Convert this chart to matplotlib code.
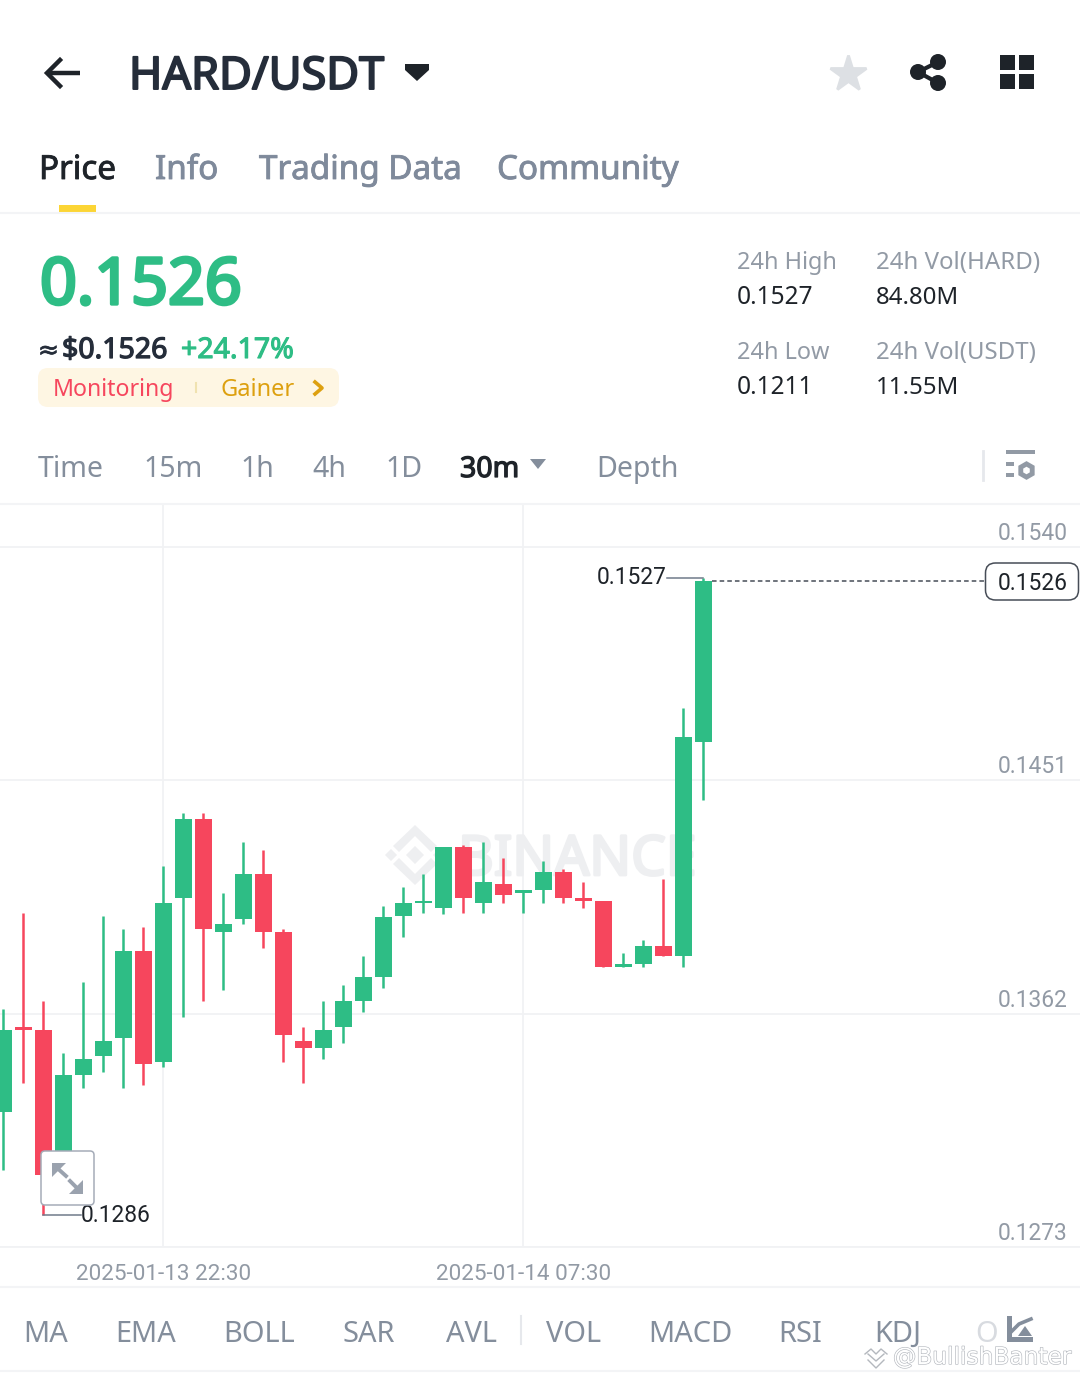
# -*- coding: utf-8 -*-
import matplotlib
matplotlib.use('Agg')
import matplotlib.pyplot as plt
import matplotlib.patheffects as pe
from matplotlib.patches import Polygon, Rectangle, Circle, FancyBboxPatch

# candles, 30m each, oldest first
opens = [.13246, .13568, .13558, .13062, .13386, .13459, .13528, .13860, .13437, .14062, .14364, .13932,
         .13981, .14153, .13932, .13517, .13489, .13569, .13669, .13761, .13993, .14042, .14023, .14256,
         .14042, .14115, .14081, .14092, .14161, .14061, .14051, .13799, .13809, .13879, .13840, .14656]
highs = [.13639, .14004, .13669, .13470, .13741, .13993, .13943, .13952, .14183, .14385, .14385, .14081,
         .14275, .14244, .13943, .13569, .13669, .13729, .13840, .14031, .14103, .14153, .14256, .14263,
         .14275, .14214, .14092, .14202, .14172, .14122, .14051, .13851, .13901, .14134, .14787, .15282]
lows = [.13024, .13357, .12852, .13062, .13336, .13398, .13336, .13348, .13418, .13608, .13669, .13710,
        .13962, .13870, .13437, .13357, .13448, .13508, .13626, .13719, .13912, .14004, .14000, .14004,
        .14004, .14042, .14004, .14042, .14042, .14023, .13799, .13799, .13799, .13840, .13799, .14435]
closes = [.13558, .13558, .13005, .13386, .13447, .13517, .13860, .13428, .14042, .14364, .13943, .13962,
          .14153, .13932, .13539, .13489, .13558, .13669, .13760, .13990, .14042, .14051, .14256, .14062,
          .14122, .14073, .14092, .14161, .14062, .14051, .13799, .13809, .13879, .13840, .14675, .15270]

price_ticks = [0.1540, 0.1451, 0.1362, 0.1273]
price_labels = ['0.1540', '0.1451', '0.1362', '0.1273']
date_ticks = [8, 26]
date_labels = ['2025-01-13 22:30', '2025-01-14 07:30']

period_tabs = ['Time', '15m', '1h', '4h', '1D', '30m', 'Depth']
period_x = [38, 143, 240, 312, 385, 460, 596]
top_tabs = ['Price', 'Info', 'Trading Data', 'Community']
top_tabs_x = [39, 155, 259, 497]
indicators = ['MA', 'EMA', 'BOLL', 'SAR', 'AVL', 'VOL', 'MACD', 'RSI', 'KDJ']
indicators_x = [23, 115, 223, 342, 446, 546, 648, 778, 874]

GREEN = '#2EBD85'
RED = '#F6465D'
DARK = '#1E2329'
GREY = '#848E9C'
AXIS_GREY = '#929AA5'
UI_FONT = ['Noto Sans', 'DejaVu Sans']
CHART_FONT = 'Roboto'

W, H = 1080, 1378
CHART_TOP, CHART_BOTTOM = 505, 1247


def pixel_axes(fig, zorder):
    a = fig.add_axes([0, 0, 1, 1], zorder=zorder)
    a.set_xlim(0, W)
    a.set_ylim(H, 0)
    a.axis('off')
    a.patch.set_alpha(0)
    return a


# the installed Noto has no heavy weight here, so medium/bold text gets a thin stroke
def txt(a, x, y, s, px, color, stroke=0, ha='left', family=UI_FONT):
    t = a.text(x, y, s, fontsize=px * 0.72, color=color, ha=ha, va='baseline', family=family)
    if stroke:
        t.set_path_effects([pe.withStroke(linewidth=stroke, foreground=color)])
    return t


fig = plt.figure(figsize=(W / 100, H / 100), dpi=100, facecolor='white')
bg = pixel_axes(fig, 0)
ax = fig.add_axes([0, (H - CHART_BOTTOM) / H, 1, (CHART_BOTTOM - CHART_TOP) / H], zorder=1)
fg = pixel_axes(fig, 2)

# --- header ---
bg.plot([48, 80], [73, 73], color=DARK, lw=3.2, solid_capstyle='butt')
bg.plot([60, 47, 60], [60, 73, 86], color=DARK, lw=3.2, solid_joinstyle='miter')
txt(bg, 129, 89, 'HARD/USDT', 45, '#252D3A', stroke=1.4)
bg.add_patch(Polygon([[405, 64], [429, 64], [429, 70], [417, 81], [405, 70]], color=DARK, lw=0))
bg.plot([848], [74], marker='*', ms=27, color='#DDE0E4', mew=2, mec='#DDE0E4', ls='')
for cx, cy in [(918, 72), (938, 62), (938, 83)]:
    bg.add_patch(Circle((cx, cy), 8, color=DARK, lw=0))
bg.plot([938, 918, 938], [62, 72, 83], color=DARK, lw=3)
for x0 in (1000, 1019):
    for y0 in (55, 74):
        bg.add_patch(Rectangle((x0, y0), 15, 15, color=DARK, lw=0))

for i, s in enumerate(top_tabs):
    txt(bg, top_tabs_x[i], 179, s, 33.2, DARK if i == 0 else '#7F8A9B', stroke=0.6)
bg.add_patch(Rectangle((59, 205), 37, 7, color='#FCD535', lw=0))
bg.plot([0, W], [213, 213], color='#F3F4F6', lw=1.5)

# --- price block ---
txt(bg, 40, 304, '0.1526', 64.5, GREEN, stroke=2.4)
txt(bg, 38, 358, '≈', 25, '#252D3A', stroke=0.5)
txt(bg, 62, 358, '$0.1526', 28.5, '#252D3A', stroke=0.9)
txt(bg, 181, 358, '+24.17%', 28.5, GREEN, stroke=0.8)
bg.add_patch(FancyBboxPatch((38, 368), 301, 39, boxstyle='round,pad=0,rounding_size=10', fc='#FEF6E3', lw=0))
txt(bg, 53, 396, 'Monitoring', 23.1, RED)
bg.plot([196, 196], [383, 392], color='#F0E2B0', lw=1.5)
txt(bg, 221, 396, 'Gainer', 23.6, '#DDA00F')
bg.plot([315, 322, 315], [382, 388, 394], color='#DDA00F', lw=2.6)

txt(bg, 737, 269, '24h High', 23.5, AXIS_GREY)
txt(bg, 737, 304, '0.1527', 24.5, DARK)
txt(bg, 737, 359, '24h Low', 23.5, AXIS_GREY)
txt(bg, 737, 394, '0.1211', 24.5, DARK)
txt(bg, 876, 269, '24h Vol(HARD)', 24, AXIS_GREY)
txt(bg, 876, 304, '84.80M', 24, DARK)
txt(bg, 876, 359, '24h Vol(USDT)', 24, AXIS_GREY)
txt(bg, 876, 394, '11.55M', 24, DARK)

# --- period tabs ---
for i, s in enumerate(period_tabs):
    active = s == '30m'
    txt(bg, period_x[i], 477, s, 28.5, DARK if active else GREY, stroke=0.9 if active else 0)
bg.add_patch(Polygon([[530, 459], [546, 459], [538, 469]], color=GREY, lw=0))
bg.plot([983, 983], [451, 480], color='#E6E8EC', lw=2)
bg.add_patch(Rectangle((1006, 450), 29, 4, color=AXIS_GREY, lw=0))
bg.add_patch(Rectangle((1006, 462), 8, 4, color=AXIS_GREY, lw=0))
bg.add_patch(Rectangle((1006, 473), 8, 4, color=AXIS_GREY, lw=0))
bg.plot([1026], [470], marker='h', ms=9.5, mfc='white', mec=AXIS_GREY, mew=3.5, ls='')
bg.plot([0, W], [504, 504], color='#F3F4F6', lw=1.5)

# watermark behind the candles
LOGO = '#EEEFF1'
for cx, r in [(415, 9), (391, 6), (439, 6)]:
    bg.add_patch(Polygon([[cx, 855 - r], [cx + r, 855], [cx, 855 + r], [cx - r, 855]], color=LOGO, lw=0))
bg.add_patch(Polygon([[415, 825], [437, 846], [431, 852], [415, 836], [399, 852], [393, 846]], color=LOGO, lw=0))
bg.add_patch(Polygon([[415, 885], [437, 864], [431, 858], [415, 874], [399, 858], [393, 864]], color=LOGO, lw=0))
txt(bg, 458, 875, 'BINANCE', 55, LOGO, stroke=2)

# --- candles ---
ax.patch.set_alpha(0)
ax.set_xlim(-0.165, 53.835)
ax.set_ylim(0.1273, 0.1556)
xs = list(range(len(opens)))
colors = [GREEN if c >= o else RED for o, c in zip(opens, closes)]
ax.vlines(xs, lows, highs, colors=colors, lw=1.8, zorder=3)
bottoms = [min(o, c) for o, c in zip(opens, closes)]
heights = [abs(c - o) for o, c in zip(opens, closes)]
ax.bar(xs, heights, bottom=bottoms, width=0.87, color=colors, linewidth=0, zorder=4)

ax.set_yticks(price_ticks)
ax.set_yticklabels([])
ax.set_xticks(date_ticks)
ax.set_xticklabels(date_labels, fontsize=16.2, color=AXIS_GREY, family=CHART_FONT)
ax.tick_params(length=0, pad=12.4)
ax.grid(axis='y', color='#F1F2F4', lw=1.3)
ax.grid(axis='x', color='#EFF0F2', lw=1.1)
ax.set_axisbelow(True)
for name, spine in ax.spines.items():
    spine.set_visible(name == 'bottom')
ax.spines['bottom'].set_color('#F1F2F4')
ax.spines['bottom'].set_linewidth(1.3)
for v, s in zip(price_ticks, price_labels):
    ax.annotate(s, xy=(1, v), xycoords=('axes fraction', 'data'), xytext=(-8.8, 5.0), textcoords='offset points',
                ha='right', va='baseline', fontsize=16.4, color=AXIS_GREY, family=CHART_FONT)

# high / low / last price markers
ax.plot([33.2, 35], [highs[35], highs[35]], color='#707A8A', lw=1.1, zorder=5)
ax.annotate('0.1527', xy=(33.15, highs[35]), ha='right', va='center', fontsize=16.4, color=DARK, family=CHART_FONT)
ax.plot([2, 3.9], [lows[2], lows[2]], color='#707A8A', lw=1.1, zorder=5)
ax.annotate('0.1286', xy=(3.85, lows[2]), ha='left', va='center', fontsize=16.4, color=DARK, family=CHART_FONT)
ax.plot([35.45, 49.1], [closes[35], closes[35]], color='#474D57', lw=1.1, ls=(0, (3, 2)), zorder=5)

fg.add_patch(FancyBboxPatch((985.5, 563), 93, 37, boxstyle='round,pad=0,rounding_size=10', fc='white',
                            ec='#474D57', lw=1.1))
txt(fg, 1033, 590, '0.1526', 22.8, DARK, ha='center', family=CHART_FONT)

# expand button
fg.add_patch(FancyBboxPatch((41, 1151), 53, 54, boxstyle='round,pad=0,rounding_size=4', fc='white',
                            ec='#A5ACB8', lw=1.1))
fg.plot([56, 66], [1167, 1176], color='#9AA2AE', lw=2.8)
fg.plot([70, 79], [1181, 1190], color='#9AA2AE', lw=2.8)
fg.add_patch(Polygon([[52, 1163], [66, 1163], [52, 1177]], color='#9AA2AE', lw=0))
fg.add_patch(Polygon([[83, 1194], [69, 1194], [83, 1180]], color='#9AA2AE', lw=0))

# --- indicator bar ---
bg.plot([0, W], [1287, 1287], color='#F3F4F6', lw=1.5)
for i, s in enumerate(indicators):
    txt(bg, indicators_x[i], 1342, s, 29, GREY)
txt(bg, 975, 1342, 'O', 29, '#D8DBE0')
bg.plot([521, 521], [1316, 1344], color='#E6E8EC', lw=1.5)
bg.plot([0, W], [1371, 1371], color='#F3F4F6', lw=1.5)
bg.add_patch(Rectangle((1007, 1316), 5, 26, color=GREY, lw=0))
bg.add_patch(Rectangle((1007, 1337), 26, 5, color=GREY, lw=0))
bg.plot([1012, 1019, 1031], [1331, 1324, 1319], color=GREY, lw=2.6)
bg.add_patch(Polygon([[1018, 1336], [1025, 1326], [1032, 1336]], color=GREY, lw=0))

# platform watermark bottom right
wm = txt(fg, 893, 1364, '@BullishBanter', 23.3, 'white', family='DejaVu Sans')
wm.set_path_effects([pe.withStroke(linewidth=0.9, foreground='#B4B8BE')])
for xl, yl in [([865, 871, 876, 881, 887], [1354, 1349, 1354, 1349, 1354]),
               ([868, 876, 884], [1354, 1361, 1354]),
               ([868, 876, 884], [1360, 1368, 1360])]:
    fg.plot(xl, yl, color='#B4B8BE', lw=1)

fig.savefig('out.png', dpi=100)
